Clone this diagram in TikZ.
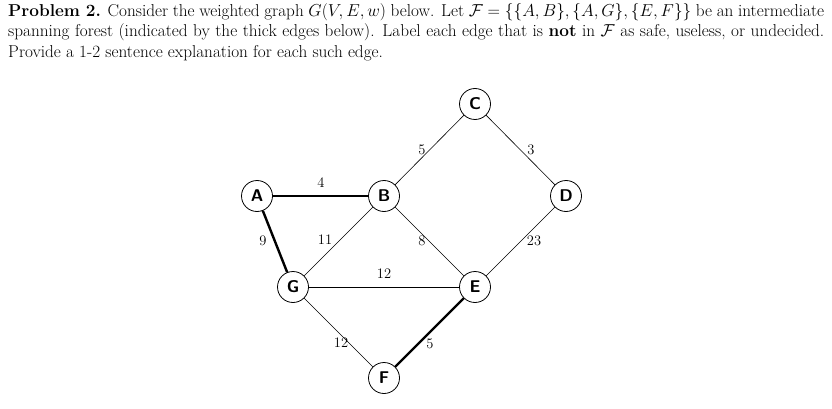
\documentclass[tikz,border=0pt]{standalone}
\usepackage{amsmath,amssymb}
\begin{document}
\begin{tikzpicture}[x=1pt,y=-1pt,
 vtx/.style={circle,draw,line width=0.8pt,minimum size=31pt,inner sep=0pt,font=\fontsize{17}{17}\selectfont\sffamily\bfseries},
 thin/.style={line width=0.6pt},
 thick/.style={line width=2.4pt},
 wl/.style={font=\fontsize{14.5}{14.5}\selectfont,inner sep=1pt}]
\useasboundingbox (0,0) rectangle (832,409);
\node[anchor=north west,text width=816pt,align=justify,inner sep=0pt,font=\fontsize{17.2}{20.5}\selectfont] (txt) at (8,3)
{\textbf{Problem 2.} Consider the weighted graph $G(V,E,w)$ below. Let $\mathcal{F}=\{\{A,B\},\{A,G\},\{E,F\}\}$ be an intermediate spanning forest (indicated by the thick edges below). Label each edge that is \textbf{not} in $\mathcal{F}$ as safe, useless, or undecided.\linebreak Provide a 1-2 sentence explanation for each such edge.\par};
\node[vtx] (A) at (257,196) {A};
\node[vtx] (B) at (384,196) {B};
\node[vtx] (C) at (475,104) {C};
\node[vtx] (D) at (566,196) {D};
\node[vtx] (G) at (293,287) {G};
\node[vtx] (E) at (475,287) {E};
\node[vtx] (F) at (384,378) {F};
\draw[thick] (A) -- (B);
\draw[thick] (A) -- (G);
\draw[thick] (E) -- (F);
\draw[thin] (G) -- (B);
\draw[thin] (B) -- (C);
\draw[thin] (C) -- (D);
\draw[thin] (B) -- (E);
\draw[thin] (D) -- (E);
\draw[thin] (G) -- (E);
\draw[thin] (G) -- (F);
\node[wl] (l1) at (321,183) {4};
\node[wl] (l2) at (263,241) {9};
\node[wl] (l3) at (325,240) {11};
\node[wl] (l4) at (422,150) {5};
\node[wl] (l5) at (531,150) {3};
\node[wl] (l6) at (422,241) {8};
\node[wl] (l7) at (534,241) {23};
\node[wl] (l8) at (384,274) {12};
\node[wl] (l9) at (341,343) {12};
\node[wl] (l10) at (430,344) {5};
\end{tikzpicture}
\end{document}
